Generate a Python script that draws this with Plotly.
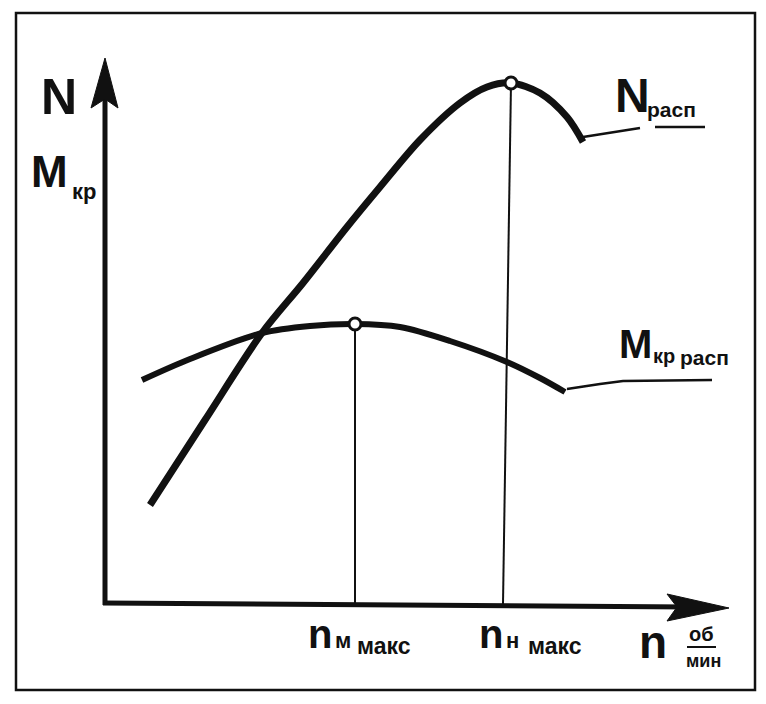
import plotly.graph_objects as go

# ---- data (arbitrary units; origin at the axes corner) ----
n_N = [9, 20, 31.4, 39.6, 48.4, 55, 63, 71, 76.4, 81.2, 87, 92.4, 95.6]
N_rasp = [19.8, 36.8, 54.2, 64.2, 75.4, 83.4, 92.8, 100.2, 103.4, 104.2, 102.2, 97.4, 92.4]

n_M = [7.4, 17, 31.4, 41, 50, 59, 69, 80.4, 87, 92]
M_rasp = [44.8, 49, 54.2, 55.6, 56, 55.4, 52.6, 48.4, 45.2, 42.4]

peak_M = (50, 56)
peak_N = (81.2, 104.2)

# ---- pixel helpers for decorations (axes map 1 unit = 5 px, origin at px (105, 604)) ----
def X(px):
    return (px - 105) / 5.0

def Y(py):
    return (604 - py) / 5.0

FONT = "Liberation Sans, Arial, sans-serif"
INK = "#111111"

fig = go.Figure()

# curves
fig.add_trace(go.Scatter(x=n_N, y=N_rasp, mode="lines",
                         line=dict(color=INK, width=7, shape="spline", smoothing=0.9),
                         hoverinfo="skip"))
fig.add_trace(go.Scatter(x=n_M, y=M_rasp, mode="lines",
                         line=dict(color=INK, width=6, shape="spline", smoothing=0.9),
                         hoverinfo="skip"))

# drop lines from the maxima
fig.add_trace(go.Scatter(x=[peak_M[0], peak_M[0]], y=[peak_M[1], 0], mode="lines",
                         line=dict(color=INK, width=2), hoverinfo="skip"))
fig.add_trace(go.Scatter(x=[peak_N[0], peak_N[0] - 1.6], y=[peak_N[1], 0], mode="lines",
                         line=dict(color=INK, width=2), hoverinfo="skip"))

# open circles at maxima
fig.add_trace(go.Scatter(x=[peak_M[0], peak_N[0]], y=[peak_M[1], peak_N[1]], mode="markers",
                         marker=dict(size=12, color="white", line=dict(color=INK, width=3)),
                         hoverinfo="skip"))

shapes = []
# outer frame
shapes.append(dict(type="rect", x0=X(16), y0=Y(13), x1=X(755), y1=Y(690),
                   line=dict(color=INK, width=2.5)))
# axes
shapes.append(dict(type="line", x0=X(105), y0=Y(605), x1=X(105), y1=Y(95),
                   line=dict(color=INK, width=5)))
shapes.append(dict(type="line", x0=X(103), y0=Y(603), x1=X(690), y1=Y(607),
                   line=dict(color=INK, width=5)))

# arrowheads
def path(pts):
    return "M " + " L ".join(f"{X(a)},{Y(b)}" for a, b in pts) + " Z"

shapes.append(dict(type="path", path=path([(105, 58), (118, 108), (105, 99), (91, 108)]),
                   fillcolor=INK, line=dict(color=INK, width=1)))
shapes.append(dict(type="path", path=path([(729, 608), (667, 621), (677, 607), (667, 594)]),
                   fillcolor=INK, line=dict(color=INK, width=1)))

# leader lines from curve ends to labels
xN, yN = n_N[-1], N_rasp[-1]
shapes.append(dict(type="path",
                   path=f"M {xN},{yN + 1} L {X(640)},{Y(128)}",
                   line=dict(color=INK, width=2.5)))
shapes.append(dict(type="line", x0=X(655), y0=Y(127), x1=X(705), y1=Y(127),
                   line=dict(color=INK, width=2.5)))
xM, yM = n_M[-1], M_rasp[-1]
shapes.append(dict(type="path",
                   path=f"M {xM + 0.4},{yM + 0.6} L {X(600)},{Y(384)} L {X(623)},{Y(381)} L {X(712)},{Y(380)}",
                   line=dict(color=INK, width=2.5)))
# fraction bar of об/мин
shapes.append(dict(type="line", x0=X(687), y0=Y(647), x1=X(716), y1=Y(647),
                   line=dict(color=INK, width=2)))

ann = []
def txt(t, lx, cy, size):
    ann.append(dict(text=f"<b>{t}</b>", x=X(lx), y=Y(cy), xanchor="left", yanchor="middle",
                    showarrow=False, borderpad=0,
                    font=dict(family=FONT, size=size, color=INK)))

# y-axis labels
txt("N", 40, 97, 50)
txt("M", 30, 171, 44)
txt("кр", 71, 191, 22)
# curve labels
txt("N", 614, 95, 48)
txt("расп", 646, 109, 21)
txt("M", 618, 344, 40)
txt("кр", 652, 356, 20)
txt("расп", 679, 357, 21)
# x-axis labels
txt("n", 307, 634, 40)
txt("м", 334, 640, 22)
txt("макс", 356, 646, 23)
txt("n", 478, 634, 40)
txt("н", 505, 640, 22)
txt("макс", 527, 646, 23)
txt("n", 638, 642, 46)
txt("об", 688, 634, 20)
txt("мин", 685, 661, 18)

fig.update_layout(
    width=766, height=704,
    margin=dict(l=0, r=0, t=0, b=0),
    paper_bgcolor="white", plot_bgcolor="white",
    showlegend=False,
    xaxis=dict(range=[X(0), X(766)], visible=False, fixedrange=True),
    yaxis=dict(range=[Y(704), Y(0)], visible=False, fixedrange=True),
    shapes=shapes,
    annotations=ann,
)

fig.write_html("out.html", config={"displayModeBar": False},
               post_script="document.body.style.margin='0';document.body.style.overflow='hidden';")
